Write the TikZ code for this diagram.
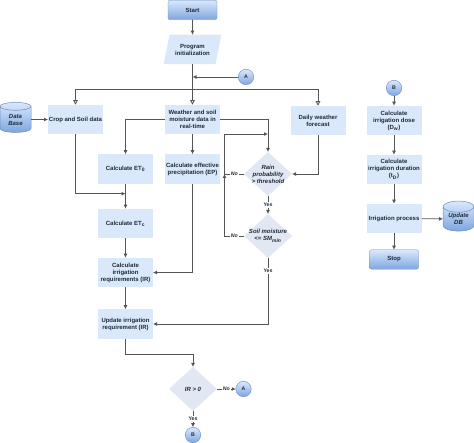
\documentclass[tikz,border=0pt]{standalone}
\usepackage{fontspec}
\setmainfont{Liberation Sans}
\usetikzlibrary{arrows.meta,positioning,shapes.geometric}
\definecolor{ink}{HTML}{1F2A36}
\definecolor{wire}{HTML}{555555}
\definecolor{pale}{HTML}{DAE8FC}
\definecolor{paledia}{HTML}{E1E8F4}
\definecolor{deep}{HTML}{7EA6E0}
\definecolor{rim}{HTML}{6C8EBF}
\begin{document}
\begin{tikzpicture}[x=1pt,y=-1pt,>={Latex[length=4pt,width=4pt]},
 every node/.style={font=\fontsize{6}{7}\selectfont\bfseries,text=ink,inner sep=0pt,outer sep=0pt,align=center},
 b/.style={fill=pale,minimum width=55pt,minimum height=29.5pt},
 term/.style={draw=rim,line width=0.3pt,rounded corners=2pt,top color=pale,bottom color=deep,minimum width=49pt,minimum height=19.5pt},
 para/.style={trapezium,trapezium left angle=68,trapezium right angle=112,fill=pale,minimum width=58pt,minimum height=29.5pt,trapezium stretches=true},
 dia/.style={diamond,fill=paledia,minimum width=48pt,minimum height=44pt},
 dtext/.style={font=\fontsize{6}{7}\selectfont\bfseries\itshape},
 conn/.style={circle,draw=rim,line width=0.4pt,top color=pale,bottom color=deep,minimum size=15.5pt,font=\fontsize{5.2}{6}\selectfont\bfseries},
 db/.style={cylinder,shape border rotate=90,aspect=0.55,draw=rim,line width=0.5pt,top color=pale,bottom color=deep,minimum width=31pt,minimum height=30pt,font=\fontsize{6}{7}\selectfont\bfseries\itshape},
 arr/.style={->,draw=wire,line width=0.8pt},
 open/.style={-{Triangle[open,length=4.5pt,width=4.5pt]},draw=wire,line width=0.8pt},
 lab/.style={fill=white,inner sep=1pt,font=\fontsize{5.2}{6}\selectfont\bfseries\itshape},
 yes/.style={fill=white,inner sep=1pt,font=\fontsize{5.2}{6}\selectfont\bfseries}]
\useasboundingbox (0,0) rectangle (474,443);
\node[term] (start) at (192.5,10) {Start};
\node[para,below=15pt of start] (init) {Program\\initialization};
\node[conn] (conna) at (246,77) {A};
\coordinate (joina) at (init.south |- conna);
\coordinate (busy) at (192.5,89.5);
\node[b] (crop) at (75.5,119.5) {Crop and Soil data};
\node[b] (weather) at (192.5,119.5) {Weather and soil\\moisture data in\\real-time};
\node[b] (daily) at (318,120.5) {Daily weather\\forecast};
\node[db] (base) at (15.5,119.5) {Data\\Base};
\node[b,below=20pt of weather] (ep) {Calculate effective\\precipitation (EP)};
\node[b,below=20pt of weather.south -| crop,xshift=50pt] (eto) {Calculate ET\textsubscript{0}};
\node[b,below=25pt of eto] (etc) {Calculate ET\textsubscript{c}};
\node[b,below=19.5pt of etc] (ir) {Calculate\\irrigation\\requirements (IR)};
\node[b,below=22pt of ir] (upd) {Update irrigation\\requirement (IR)};
\node[dia,label={[dtext]center:Rain\\probability\\> threshold}] (rain) at (268,174) {};
\node[dia,label={[dtext]center:Soil moisture\\<= SM\textsubscript{min}}] (soil) at (268,236) {};
\node[dia,label={[dtext]center:IR > 0}] (pos) at (193,389) {};
\node[conn] (conna2) at (243.5,389) {A};
\node[conn] (connb2) at (193,435) {B};
% right column
\node[conn] (connb) at (394,88) {B};
\node[b,below=10pt of connb] (dose) {Calculate\\irrigation dose\\(D\textsubscript{w})};
\node[b,below=19.5pt of dose] (dur) {Calculate\\irrigation duration\\(t\textsubscript{D})};
\node[b,below=19.5pt of dur] (proc) {Irrigation process};
\node[term,below=16.5pt of proc] (stop) {Stop};
\node[db] (updb) at (458.5,219) {Update\\DB};
\coordinate (turnno) at (224.5,174);
\coordinate (turnup) at (224.5,134);
\coordinate (drop) at (268,134);
\coordinate (feed) at (125.5,193.7);
\coordinate (sink) at (193,354);
\draw[arr] (start)--(init);
\draw[arr] (conna)--(joina);
\draw[wire,line width=0.8pt] (init.south)--(weather.north |- busy);
\draw[open] (busy)--(weather);
\draw[open] (busy)-|(crop);
\draw[open] (busy)-|(daily);
\draw[arr] (base)--(crop);
\draw[arr] (crop.south) |- (feed);
\draw[arr] (weather.west) -| (eto);
\draw[arr] (weather)--(ep);
\draw[arr] (weather.east) -| (rain.north);
\draw[arr] (eto)--(etc);
\draw[arr] (etc)--(ir);
\draw[arr] (ep.south) |- (ir.east);
\draw[arr] (ir)--(upd);
\draw[arr] (daily.south) |- (rain.east);
\draw[arr] (rain.west)--node[lab]{No}(turnno)--(turnup)--(drop);
\draw[arr] (soil.west) -| node[lab,pos=0.25]{No} (turnno);
\draw[arr] (rain.south)--node[yes]{Yes}(soil.north);
\draw[arr] (soil.south) |- node[yes,pos=0.1]{Yes} (upd.east);
\draw[arr] (upd.south) |- (sink)--(pos.north);
\draw[arr] (pos.east)--node[lab]{No}(conna2);
\draw[arr] (pos.south)--node[yes]{Yes}(connb2);
\draw[arr] (connb)--(dose);
\draw[arr] (dose)--(dur);
\draw[arr] (dur)--(proc);
\draw[arr] (proc)--(stop);
\draw[arr] (proc)--(updb);
\end{tikzpicture}
\end{document}
